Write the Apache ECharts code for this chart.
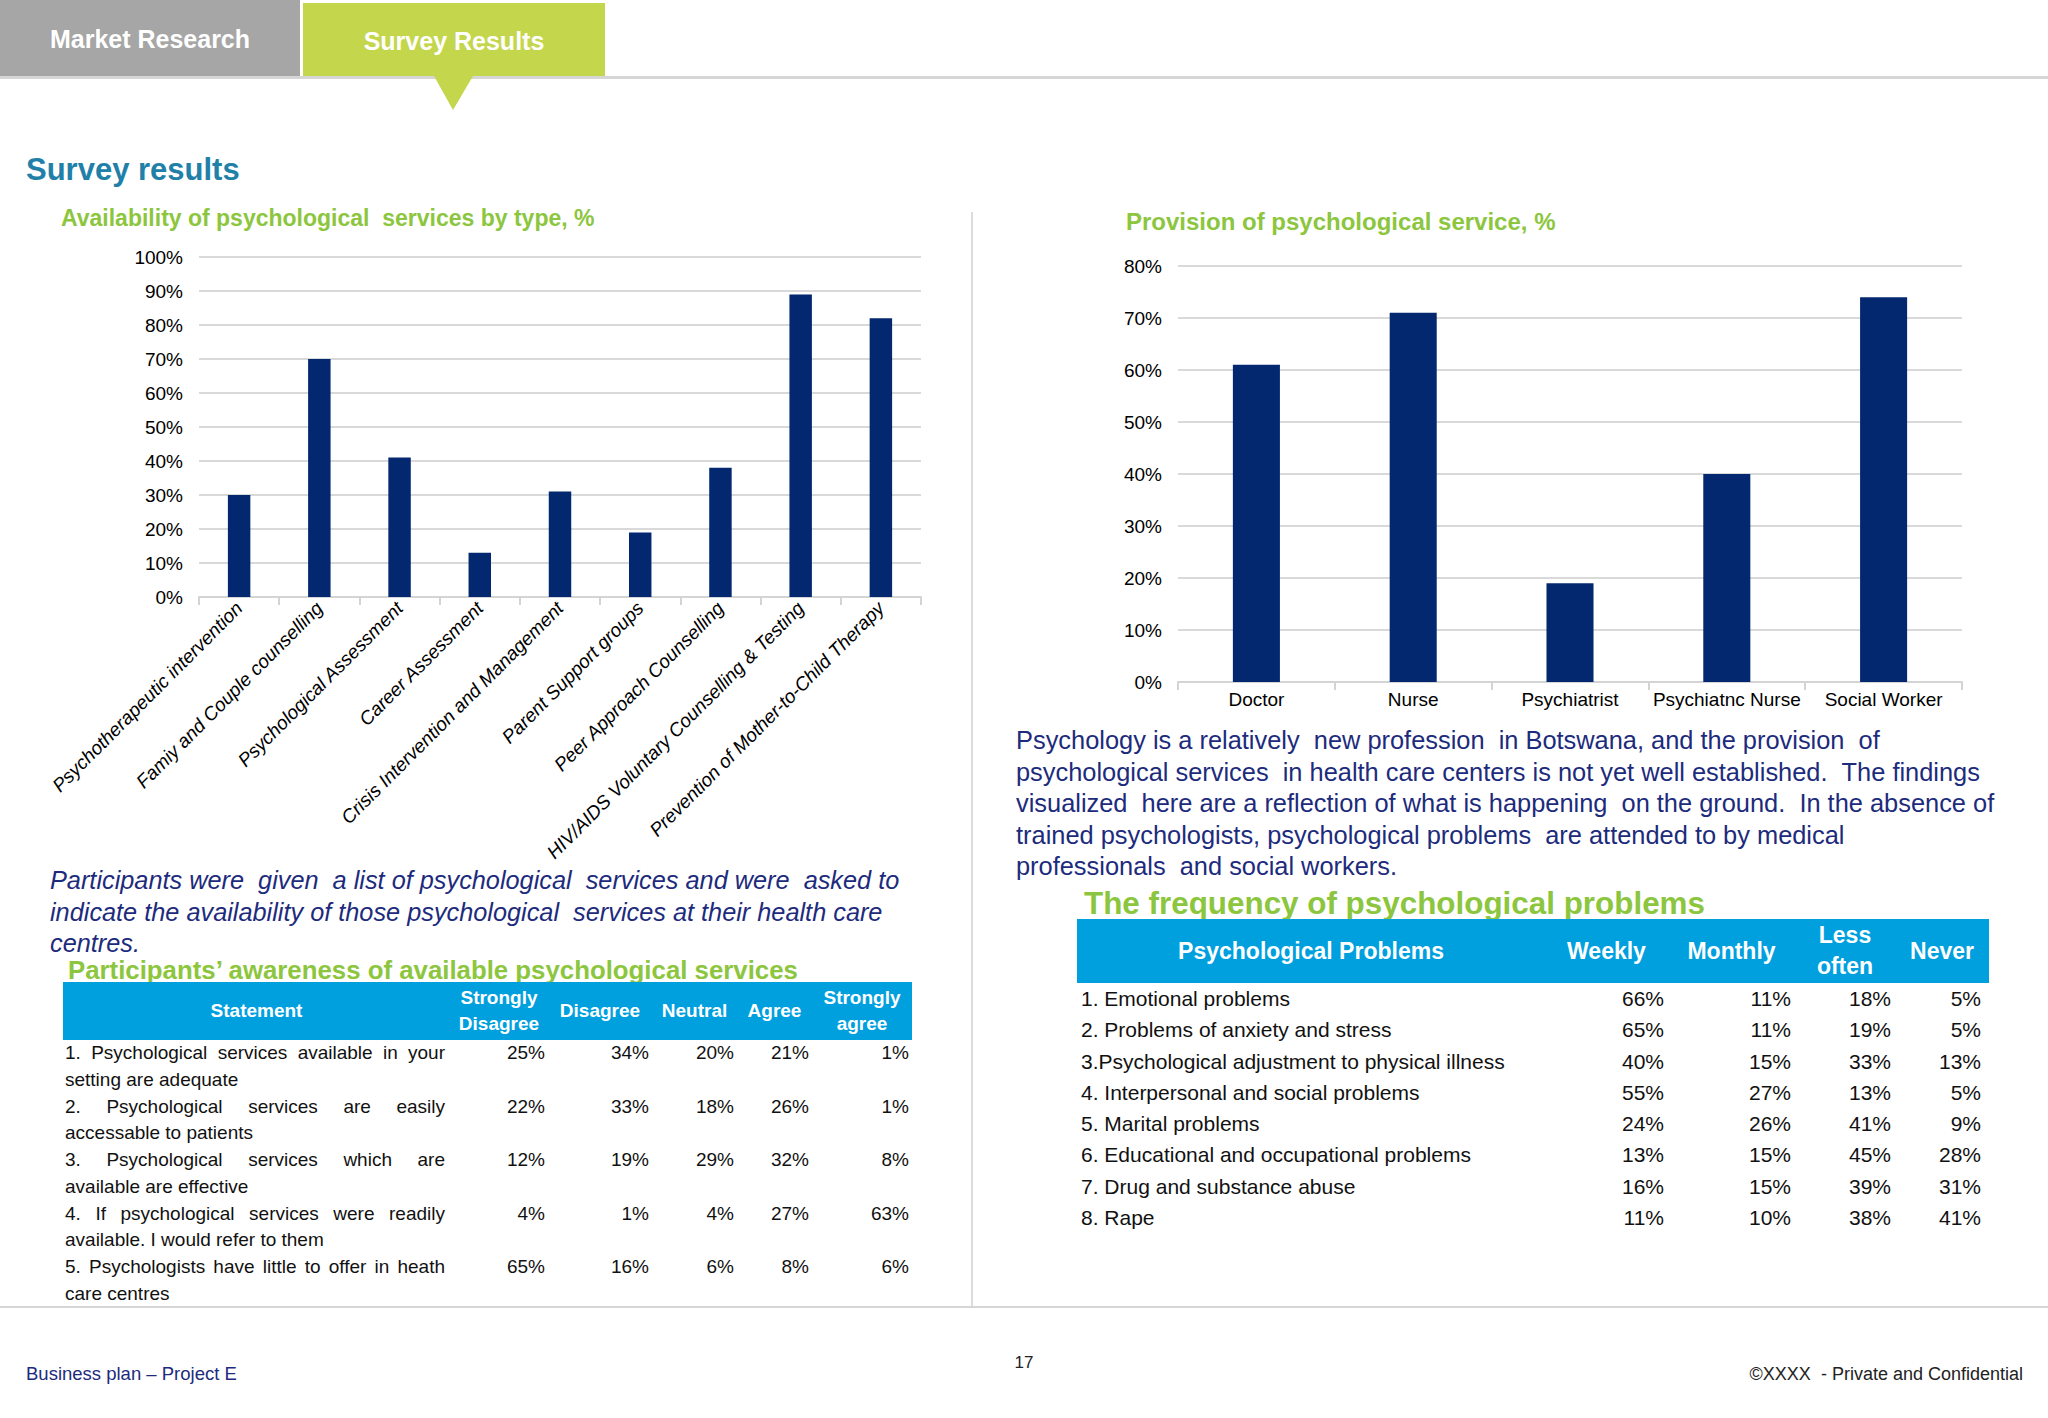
<!DOCTYPE html>
<html>
<head>
<meta charset="utf-8">
<script src="https://cdn.jsdelivr.net/npm/echarts@6/dist/echarts.min.js"></script>
<style>
  html, body { margin:0; padding:0; background:#fff; }
  body { width:2048px; height:1418px; position:relative; overflow:hidden; font-family:"Liberation Sans", Arial, sans-serif; }
  #chart { position:absolute; left:0; top:0; width:2048px; height:1418px; z-index:0; }
  .abs { position:absolute; z-index:2; white-space:nowrap; }
  .tab { position:absolute; color:#fff; font-weight:bold; font-size:25px; text-align:center; line-height:73px; z-index:2; }
  .green-title { color:#8cc63e; font-weight:bold; }
  .navy { color:#1d2b7c; }
  table { border-collapse:collapse; table-layout:fixed; position:absolute; z-index:2; }
  td, th { padding:0; margin:0; overflow:hidden; }
  #awareness th { background:#00a0df; color:#fff; font-weight:bold; font-size:19px; line-height:26px; height:58px; text-align:center; vertical-align:middle; }
  #awareness td { font-size:19px; line-height:26.75px; vertical-align:top; color:#111; }
  #awareness td.val { text-align:right; padding-right:3px; }
  #awareness td.stmt { padding-left:2px; padding-right:5px; }
  .j1 { text-align:justify; text-align-last:justify; }
  #frequency th { background:#00a0df; color:#fff; font-weight:bold; font-size:23px; line-height:31px; height:64px; text-align:center; vertical-align:middle; }
  #frequency td { font-size:21px; line-height:31.3px; height:31.3px; vertical-align:middle; color:#111; white-space:nowrap; }
  #frequency td.val { text-align:right; padding-right:4px; }
  #frequency td.val:last-child { padding-right:8px; }
  #frequency td.prob { padding-left:4px; }
</style>
</head>
<body>
<div id="chart"></div>

<!-- header tabs -->
<div class="tab" style="left:0;top:0;width:300px;height:76px;background:#a6a6a6;line-height:79px;">Market Research</div>
<div class="tab" style="left:303px;top:3px;width:302px;height:73px;background:#c4d64b;line-height:76px;">Survey Results</div>
<div class="abs" style="left:0;top:76px;width:2048px;height:3px;background:#d6d6d6;"></div>
<svg class="abs" style="left:0;top:0;" width="2048" height="120"><polygon points="434,76 473,76 453,110" fill="#c4d64b"/></svg>

<div class="abs" style="left:26px;top:150px;font-size:31px;font-weight:bold;color:#2180a8;line-height:40px;">Survey results</div>
<div class="abs green-title" style="left:61px;top:204px;font-size:23px;line-height:28px;">Availability of psychological&nbsp; services by type, %</div>
<div class="abs green-title" style="left:1126px;top:207px;font-size:24px;line-height:29px;">Provision of psychological service, %</div>

<!-- dividers -->
<div class="abs" style="left:971px;top:212px;width:2px;height:1095px;background:#dcdcdc;"></div>
<div class="abs" style="left:0;top:1306px;width:2048px;height:2px;background:#d6d6d6;"></div>

<!-- right paragraph -->
<div class="abs navy" id="rightPara" style="left:1016px;top:725px;font-size:25.4px;line-height:31.6px;"></div>
<div class="abs green-title" style="left:1084px;top:886px;font-size:31.4px;line-height:36px;">The frequency of psychological problems</div>

<!-- left paragraph -->
<div class="abs navy" id="leftPara" style="left:50px;top:865px;font-size:25.3px;line-height:31.6px;font-style:italic;"></div>
<div class="abs green-title" style="left:68px;top:956px;font-size:25.8px;line-height:28px;">Participants’ awareness of available psychological services</div>

<table id="awareness" style="left:63px;top:982px;width:849px;">
  <colgroup><col style="width:387px"><col style="width:98px"><col style="width:104px"><col style="width:85px"><col style="width:75px"><col style="width:100px"></colgroup>
  <thead><tr id="awHead"></tr></thead>
  <tbody id="awBody"></tbody>
</table>

<table id="frequency" style="left:1077px;top:919px;width:912px;">
  <colgroup><col style="width:468px"><col style="width:123px"><col style="width:127px"><col style="width:100px"><col style="width:94px"></colgroup>
  <thead><tr id="frHead"></tr></thead>
  <tbody id="frBody"></tbody>
</table>

<!-- footer -->
<div class="abs" style="left:26px;top:1363px;font-size:18.5px;line-height:22px;color:#1d2b7c;">Business plan – Project E</div>
<div class="abs" style="left:1004px;top:1352px;width:40px;text-align:center;font-size:17px;line-height:22px;color:#222;">17</div>
<div class="abs" style="right:25px;top:1363px;font-size:18px;line-height:22px;color:#222;">©XXXX&nbsp; - Private and Confidential</div>

<script>
// ---------- DATA ----------
const availCategories = [
  'Psychotherapeutic intervention',
  'Famiy and Couple counselling',
  'Psychological Assessment',
  'Career Assessment',
  'Crisis Intervention and Management',
  'Parent Support groups',
  'Peer Approach Counselling',
  'HIV/AIDS Voluntary Counselling & Testing',
  'Prevention of Mother-to-Child Therapy'
];
const availValues = [30, 70, 41, 13, 31, 19, 38, 89, 82];

const provisionCategories = ['Doctor', 'Nurse', 'Psychiatrist', 'Psychiatnc Nurse', 'Social Worker'];
const provisionValues = [61, 71, 19, 40, 74];

const rightParagraphLines = [
  'Psychology is a relatively  new profession  in Botswana, and the provision  of',
  'psychological services  in health care centers is not yet well established.  The findings',
  'visualized  here are a reflection of what is happening  on the ground.  In the absence of',
  'trained psychologists, psychological problems  are attended to by medical',
  'professionals  and social workers.'
];
const leftParagraphLines = [
  'Participants were  given  a list of psychological  services and were  asked to',
  'indicate the availability of those psychological  services at their health care',
  'centres.'
];

const awarenessColumns = [['Statement'], ['Strongly', 'Disagree'], ['Disagree'], ['Neutral'], ['Agree'], ['Strongly', 'agree']];
const awarenessStatements = [
  ['1. Psychological services available in your', 'setting are adequate'],
  ['2. Psychological services are easily', 'accessable to patients'],
  ['3. Psychological services which are', 'available are effective'],
  ['4. If psychological services were readily', 'available. I would refer to them'],
  ['5. Psychologists have little to offer in heath', 'care centres']
];
const awarenessStronglyDisagree = [25, 22, 12, 4, 65];
const awarenessDisagree = [34, 33, 19, 1, 16];
const awarenessNeutral = [20, 18, 29, 4, 6];
const awarenessAgree = [21, 26, 32, 27, 8];
const awarenessStronglyAgree = [1, 1, 8, 63, 6];

const frequencyColumns = [['Psychological Problems'], ['Weekly'], ['Monthly'], ['Less', 'often'], ['Never']];
const frequencyProblems = [
  '1. Emotional problems',
  '2. Problems of anxiety and stress',
  '3.Psychological adjustment to physical illness',
  '4. Interpersonal and social problems',
  '5. Marital problems',
  '6. Educational and occupational problems',
  '7. Drug and substance abuse',
  '8. Rape'
];
const frequencyWeekly = [66, 65, 40, 55, 24, 13, 16, 11];
const frequencyMonthly = [11, 11, 15, 27, 26, 15, 15, 10];
const frequencyLessOften = [18, 19, 33, 13, 41, 45, 39, 38];
const frequencyNever = [5, 5, 13, 5, 9, 28, 31, 41];

// ---------- TEXT & TABLES ----------
function esc(s) { return s.replace(/&/g, '&amp;').replace(/</g, '&lt;').replace(/  /g, ' &nbsp;'); }
document.getElementById('rightPara').innerHTML = rightParagraphLines.map(esc).join('<br>');
document.getElementById('leftPara').innerHTML = leftParagraphLines.map(esc).join('<br>');

document.getElementById('awHead').innerHTML = awarenessColumns.map(c => '<th>' + c.map(esc).join('<br>') + '</th>').join('');
const awCols = [awarenessStronglyDisagree, awarenessDisagree, awarenessNeutral, awarenessAgree, awarenessStronglyAgree];
document.getElementById('awBody').innerHTML = awarenessStatements.map((st, i) =>
  '<tr><td class="stmt"><div class="j1">' + esc(st[0]) + '</div><div>' + esc(st[1]) + '</div></td>' +
  awCols.map(col => '<td class="val">' + col[i] + '%</td>').join('') + '</tr>'
).join('');

document.getElementById('frHead').innerHTML = frequencyColumns.map(c => '<th>' + c.map(esc).join('<br>') + '</th>').join('');
const frCols = [frequencyWeekly, frequencyMonthly, frequencyLessOften, frequencyNever];
document.getElementById('frBody').innerHTML = frequencyProblems.map((p, i) =>
  '<tr><td class="prob">' + esc(p) + '</td>' + frCols.map(col => '<td class="val">' + col[i] + '%</td>').join('') + '</tr>'
).join('');

// ---------- CHARTS ----------
const FONT = '"Liberation Sans", Arial, sans-serif';
const gridLine = { lineStyle: { color: '#d9d9d9', width: 2 } };
const axisGray = { lineStyle: { color: '#d4d4d4', width: 2 } };
const chart = echarts.init(document.getElementById('chart'), null, { renderer: 'svg' });
chart.setOption({
  animation: false,
  textStyle: { fontFamily: FONT },
  grid: [
    { left: 199, top: 257, width: 722, height: 340 },
    { left: 1178, top: 266, width: 784, height: 416 }
  ],
  xAxis: [
    { type: 'category', gridIndex: 0, data: availCategories,
      axisLine: axisGray, axisTick: { show: true, length: 8, lineStyle: { color: '#d4d4d4', width: 2 } },
      axisLabel: { interval: 0, rotate: 45, fontStyle: 'italic', fontSize: 19, color: '#000', margin: 8, fontFamily: FONT } },
    { type: 'category', gridIndex: 1, data: provisionCategories,
      axisLine: axisGray, axisTick: { show: true, length: 8, lineStyle: { color: '#d4d4d4', width: 2 } },
      axisLabel: { interval: 0, fontSize: 19, color: '#000', margin: 8, fontFamily: FONT } }
  ],
  yAxis: [
    { type: 'value', gridIndex: 0, min: 0, max: 100, interval: 10,
      axisLine: { show: false }, axisTick: { show: false }, splitLine: gridLine,
      axisLabel: { formatter: '{value}%', fontSize: 19, color: '#000', margin: 16, fontFamily: FONT } },
    { type: 'value', gridIndex: 1, min: 0, max: 80, interval: 10,
      axisLine: { show: false }, axisTick: { show: false }, splitLine: gridLine,
      axisLabel: { formatter: '{value}%', fontSize: 19, color: '#000', margin: 16, fontFamily: FONT } }
  ],
  series: [
    { type: 'bar', xAxisIndex: 0, yAxisIndex: 0, data: availValues, barWidth: '28%', itemStyle: { color: '#03286f' } },
    { type: 'bar', xAxisIndex: 1, yAxisIndex: 1, data: provisionValues, barWidth: '30%', itemStyle: { color: '#03286f' } }
  ]
});
</script>
</body>
</html>
